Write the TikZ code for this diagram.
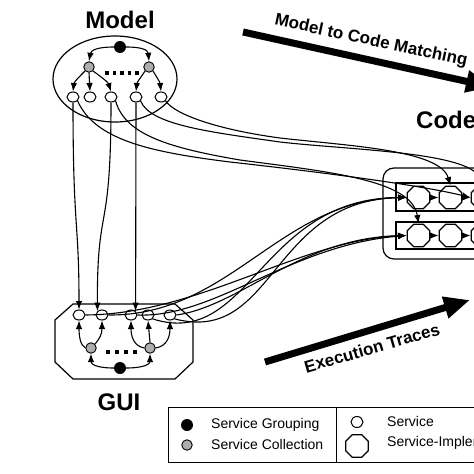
\documentclass[tikz,border=0pt]{standalone}
\usepackage{fontspec}
\setmainfont{Liberation Sans}
\usetikzlibrary{arrows.meta,shapes.geometric}
\definecolor{svcgray}{gray}{0.68}
\begin{document}
\begin{tikzpicture}[x=1pt,y=-1pt,
  svc/.style={ellipse, draw, line width=1pt, fill=white, minimum width=12pt, minimum height=10pt, inner sep=0pt},
  coll/.style={circle, draw, line width=0.9pt, fill=svcgray, minimum size=10.5pt, inner sep=0pt},
  grp/.style={circle, fill=black, minimum size=12pt, inner sep=0pt},
  impl/.style={regular polygon, regular polygon sides=8, draw, line width=1.3pt, minimum size=24.5pt, inner sep=0pt},
  lnk/.style={line width=1.1pt, -{Latex[length=8.5pt,width=6.5pt]}},
  cont/.style={line width=1.2pt},
  title/.style={font=\fontsize{24}{28}\selectfont\bfseries, inner sep=0pt},
  banner/.style={font=\fontsize{17}{20}\selectfont\bfseries, inner sep=0pt},
  legtxt/.style={font=\fontsize{14}{17}\selectfont, anchor=west, inner sep=0pt},
  bigarrow/.style={line width=7pt, -{Triangle[length=26pt,width=21pt]}}]
\useasboundingbox (0,0) rectangle (474,474);
\clip (0,0) rectangle (474,474);

% ---------- titles ----------
\node[title, anchor=base] (tmodel) at (120,28) {Model};
\node[title, anchor=base] (tgui) at (119,410) {GUI};
\node[title, anchor=base west] (tcode) at (416,128) {Code};

% ---------- Model ----------
\node[ellipse, draw, cont, minimum width=124pt, minimum height=86pt] (model) at (115,79) {};
\node[grp] (mb) at (120,47) {};
\node[coll] (mgl) at (89,67) {};
\node[coll] (mgr) at (149,67) {};
\node[svc] (m1) at (73,97) {};
\node[svc] (m2) at (90,97) {};
\node[svc] (m3) at (111,97) {};
\node[svc] (m4) at (136,97) {};
\node[svc] (m5) at (161,97) {};
\foreach \x in {107,114.5,122,129.5,137} \fill (\x-1.6,71.4) rectangle (\x+1.6,74.6);

\draw[lnk] (mb.west) .. controls (98,47) and (91,50) .. (mgl.north);
\draw[lnk] (mb.east) .. controls (142,47) and (148,50) .. (mgr.north);
\draw[lnk] (mgl.south west) .. controls (80,76) and (74,82) .. (m1.north);
\draw[lnk] (mgl.south) -- (m2.north);
\draw[lnk] (mgl.south east) .. controls (100,76) and (108,82) .. (m3.north);
\draw[lnk] (mgr.south west) .. controls (142,76) and (137,82) .. (m4.north);
\draw[lnk] (mgr.south east) .. controls (156,76) and (160,82) .. (m5.north);

% ---------- GUI ----------
\draw[cont] (73,304) -- (175,304) -- (193,320) -- (193,362) -- (175,379) -- (73,379) -- (55,362) -- (55,320) -- cycle;
\node[svc] (g1) at (79,315) {};
\node[svc] (g2) at (102,315) {};
\node[svc] (g3) at (131,315) {};
\node[svc] (g4) at (148,315) {};
\node[svc] (g5) at (170,315) {};
\node[coll] (ggl) at (91,348) {};
\node[coll] (ggr) at (150,348) {};
\node[grp] (gb) at (120,368) {};
\foreach \x in {108,117,126,135} \fill (\x-1.6,350.4) rectangle (\x+1.6,353.6);

\draw[lnk] (ggl.west) .. controls (80,345) and (79,335) .. (g1.south);
\draw[lnk] (ggl.north east) .. controls (100,338) and (102,334) .. (g2.south);
\draw[lnk] (ggr.west) .. controls (133,346) and (131,335) .. (g3.south);
\draw[lnk] (ggr.north) -- (g4.south);
\draw[lnk] (ggr.east) .. controls (168,346) and (170,335) .. (g5.south);
\draw[lnk] (gb.west) .. controls (96,368) and (91,364) .. (ggl.south);
\draw[lnk] (gb.east) .. controls (144,368) and (150,364) .. (ggr.south);

% ---------- Code ----------
\draw[cont, rounded corners=11pt] (383,168) rectangle (520,259);
\draw[cont] (396,183) rectangle (520,211);
\draw[cont] (396,222) rectangle (520,249);
\node[impl] (r1a) at (418.5,197.5) {};
\node[impl] (r1b) at (450.5,197.5) {};
\node[impl] (r1c) at (482.5,197.5) {};
\node[impl] (r2a) at (418.5,235.5) {};
\node[impl] (r2b) at (450.5,235.5) {};
\node[impl] (r2c) at (482.5,235.5) {};
\draw[lnk] (r1a.east) -- (r1b.west);
\draw[lnk] (r1b.east) -- (r1c.west);
\draw[lnk] (r2a.east) -- (r2b.west);
\draw[lnk] (r2b.east) -- (r2c.west);

% ---------- Model -> GUI ----------
\draw[lnk] (m1.south) .. controls (73,230) and (79,220) .. (g1.north);
\draw[lnk] (m3.south) .. controls (111,240) and (97,200) .. (g2.north west);
\draw[lnk] (m4.south) -- (g3.north east);

% ---------- Model -> Code ----------
\draw[lnk] (m5.south east) .. controls (175,115) and (220,130) .. (280,138)
  .. controls (350,146) and (440,150) .. (r1b.north);
\draw[lnk] (m4.south east) .. controls (150,125) and (210,132) .. (280,142)
  .. controls (350,150) and (470,152) .. (r1c.north);
\draw[lnk] (m1.south east) .. controls (95,140) and (150,152) .. (230,162)
  .. controls (320,172) and (420,185) .. (r1c.west);
\draw[lnk] (m3.south east) .. controls (125,135) and (170,148) .. (240,160)
  .. controls (330,172) and (412,180) .. (r2a.north);

% ---------- GUI -> Code ----------
\draw[lnk] (g1.east) .. controls (200,314) and (300,240) .. (r2a.west);
\draw[lnk] (g3.east) .. controls (215,318) and (290,245) .. (r2a.west);
\draw[lnk] (g5.east) .. controls (240,306) and (300,238) .. (r2a.west);
\draw[lnk] (g4.south east) .. controls (250,350) and (260,198) .. (r1a.west);
\draw[lnk] (g5.south east) .. controls (275,345) and (270,200) .. (r1a.west);
\draw[lnk] (g2.east) .. controls (230,316) and (280,200) .. (r1a.west);

% ---------- big arrows ----------
\coordinate (mcs) at (243,32);
\coordinate (mct) at (492,87);
\draw[bigarrow] (mcs) -- (mct);
\node[banner, rotate=-12] (mctxt) at (371,41) {Model to Code Matching};
\coordinate (ets) at (265,362);
\coordinate (ett) at (470,300);
\draw[bigarrow] (ets) -- (ett);
\node[banner, rotate=16] (ettxt) at (372,348) {Execution Traces};

% ---------- legend ----------
\draw[line width=1pt] (168,407) rectangle (520,462);
\draw[line width=1pt] (336,407) -- (336,462);
\node[grp] (lgrp) at (187,425) {};
\node[coll] (lcoll) at (187,445) {};
\node[legtxt] (tgrp) at (211,425) {Service Grouping};
\node[legtxt] (tcoll) at (211,444) {Service Collection};
\node[svc, minimum width=12pt, minimum height=11pt] (lsvc) at (357,422) {};
\node[impl] (limpl) at (357,446) {};
\node[legtxt] (tsvc) at (387,421) {Service};
\node[legtxt] (timpl) at (387,443) {Service-Implementation};
\end{tikzpicture}
\end{document}
